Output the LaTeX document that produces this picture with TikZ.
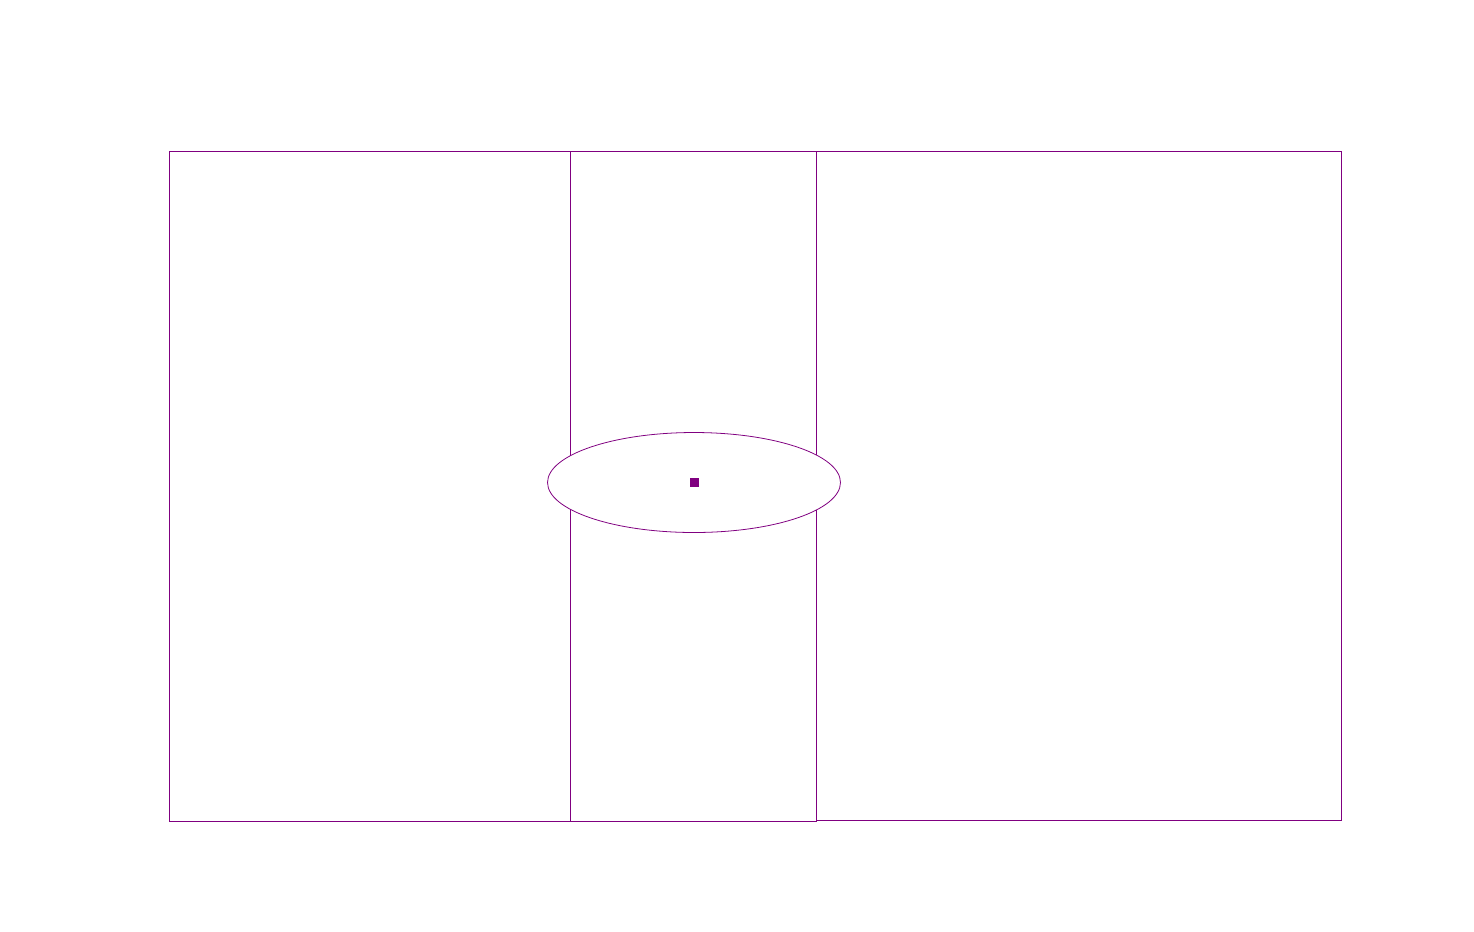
\documentclass[tikz,border=0pt]{standalone}
\usetikzlibrary{positioning, shapes.geometric}
\definecolor{plum}{RGB}{128,0,128}
\tikzset{
panel/.style={draw=plum, line width=0.45pt, inner sep=0pt, outer sep=0pt, minimum height=13.4cm}, % the three side by side boxes
hub/.style={ellipse, draw=plum, fill=white, line width=0.45pt, minimum width=5.86cm, minimum height=2cm, inner sep=0pt},
dot/.style={fill=plum, minimum size=0.18cm, inner sep=0pt},
}

\begin{document}
\begin{tikzpicture}[x=0.02cm, y=-0.02cm]
\useasboundingbox (0,0) rectangle (1474,931);
\node[panel, minimum width=8.02cm, anchor=north west] (left) at (169.7,151.7) {};
\node[panel, minimum width=4.92cm, right=0pt of left.north east, anchor=north west] (middle) {};
\node[panel, minimum width=10.5cm, minimum height=13.38cm, right=0pt of middle.north east, anchor=north west] (right) {};
\node[hub] (ring) at (694,482.5) {};
\node[dot] (core) at (ring.center) {};
\end{tikzpicture}
\end{document}
